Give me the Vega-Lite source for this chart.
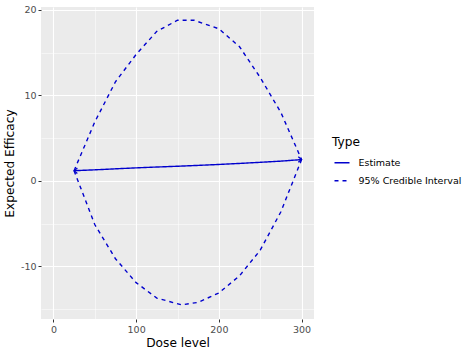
{
  "$schema": "https://vega.github.io/schema/vega-lite/v6.json",
  "width": 273,
  "height": 312,
  "autosize": {"type": "none"},
  "padding": {"left": 41, "top": 7, "right": 160, "bottom": 36},
  "background": "white",
  "config": {
    "view": {"fill": "#EBEBEB", "stroke": null},
    "font": "DejaVu Sans",
    "axis": {
      "domain": false,
      "labelColor": "#4D4D4D",
      "labelFont": "DejaVu Sans",
      "labelFontSize": 9.5,
      "titleFont": "DejaVu Sans",
      "titleFontSize": 12.2,
      "titleFontWeight": "normal",
      "titleColor": "black",
      "tickColor": "#333333",
      "tickSize": 3,
      "tickWidth": 1,
      "gridColor": "white",
      "labelPadding": 2,
      "labelOverlap": false,
      "labelFlush": false
    }
  },
  "data": {
    "values": [
      {"dose": 25, "value": 1.2, "Type": "Estimate", "Line": "Estimate"},
      {"dose": 50, "value": 1.3, "Type": "Estimate", "Line": "Estimate"},
      {"dose": 75, "value": 1.42, "Type": "Estimate", "Line": "Estimate"},
      {"dose": 100, "value": 1.53, "Type": "Estimate", "Line": "Estimate"},
      {"dose": 125, "value": 1.63, "Type": "Estimate", "Line": "Estimate"},
      {"dose": 150, "value": 1.72, "Type": "Estimate", "Line": "Estimate"},
      {"dose": 175, "value": 1.82, "Type": "Estimate", "Line": "Estimate"},
      {"dose": 200, "value": 1.93, "Type": "Estimate", "Line": "Estimate"},
      {"dose": 225, "value": 2.05, "Type": "Estimate", "Line": "Estimate"},
      {"dose": 250, "value": 2.18, "Type": "Estimate", "Line": "Estimate"},
      {"dose": 275, "value": 2.32, "Type": "Estimate", "Line": "Estimate"},
      {"dose": 300, "value": 2.5, "Type": "Estimate", "Line": "Estimate"},

      {"dose": 25, "value": 1.2, "Type": "95% Credible Interval", "Line": "Upper"},
      {"dose": 50, "value": 6.9, "Type": "95% Credible Interval", "Line": "Upper"},
      {"dose": 75, "value": 11.6, "Type": "95% Credible Interval", "Line": "Upper"},
      {"dose": 100, "value": 14.8, "Type": "95% Credible Interval", "Line": "Upper"},
      {"dose": 125, "value": 17.5, "Type": "95% Credible Interval", "Line": "Upper"},
      {"dose": 150, "value": 18.8, "Type": "95% Credible Interval", "Line": "Upper"},
      {"dose": 170, "value": 18.8, "Type": "95% Credible Interval", "Line": "Upper"},
      {"dose": 200, "value": 17.8, "Type": "95% Credible Interval", "Line": "Upper"},
      {"dose": 225, "value": 15.7, "Type": "95% Credible Interval", "Line": "Upper"},
      {"dose": 250, "value": 12.1, "Type": "95% Credible Interval", "Line": "Upper"},
      {"dose": 275, "value": 8.0, "Type": "95% Credible Interval", "Line": "Upper"},
      {"dose": 300, "value": 2.5, "Type": "95% Credible Interval", "Line": "Upper"},

      {"dose": 25, "value": 1.2, "Type": "95% Credible Interval", "Line": "Lower"},
      {"dose": 50, "value": -5.1, "Type": "95% Credible Interval", "Line": "Lower"},
      {"dose": 75, "value": -9.1, "Type": "95% Credible Interval", "Line": "Lower"},
      {"dose": 100, "value": -11.9, "Type": "95% Credible Interval", "Line": "Lower"},
      {"dose": 125, "value": -13.7, "Type": "95% Credible Interval", "Line": "Lower"},
      {"dose": 155, "value": -14.5, "Type": "95% Credible Interval", "Line": "Lower"},
      {"dose": 175, "value": -14.2, "Type": "95% Credible Interval", "Line": "Lower"},
      {"dose": 200, "value": -13.1, "Type": "95% Credible Interval", "Line": "Lower"},
      {"dose": 225, "value": -11.1, "Type": "95% Credible Interval", "Line": "Lower"},
      {"dose": 250, "value": -8.1, "Type": "95% Credible Interval", "Line": "Lower"},
      {"dose": 275, "value": -3.6, "Type": "95% Credible Interval", "Line": "Lower"},
      {"dose": 300, "value": 2.5, "Type": "95% Credible Interval", "Line": "Lower"}
    ]
  },
  "encoding": {
    "x": {
      "field": "dose",
      "type": "quantitative",
      "scale": {"domain": [-15, 315], "nice": false, "zero": false},
      "axis": {
        "title": "Dose level",
        "values": [0, 50, 100, 150, 200, 250, 300],
        "labelExpr": "datum.value % 100 === 0 ? datum.label : ''",
        "gridWidth": {"condition": {"test": "datum.value % 100 === 0", "value": 1.1}, "value": 0.5},
        "tickOpacity": {"condition": {"test": "datum.value % 100 === 0", "value": 1}, "value": 0},
        "titlePadding": 3
      }
    },
    "y": {
      "field": "value",
      "type": "quantitative",
      "scale": {"domain": [-16.15, 20.35], "nice": false, "zero": false},
      "axis": {
        "title": "Expected Efficacy",
        "values": [-15, -10, -5, 0, 5, 10, 15, 20],
        "labelExpr": "datum.value % 10 === 0 ? '' + datum.value : ''",
        "gridWidth": {"condition": {"test": "datum.value % 10 === 0", "value": 1.1}, "value": 0.5},
        "tickOpacity": {"condition": {"test": "datum.value % 10 === 0", "value": 1}, "value": 0},
        "titlePadding": 4
      }
    }
  },
  "layer": [
    {
      "mark": {"type": "line", "strokeWidth": 1.4},
      "encoding": {
        "detail": {"field": "Line"},
        "color": {
          "field": "Type",
          "type": "nominal",
          "scale": {"domain": ["Estimate", "95% Credible Interval"], "range": ["#0000CD", "#0000CD"]},
          "legend": {
            "title": "Type",
            "orient": "none",
            "legendX": 291,
            "legendY": 129,
            "padding": 0,
            "symbolType": "stroke",
            "symbolSize": 225,
            "symbolStrokeWidth": 1.4,
            "symbolOffset": 1.5,
            "labelOffset": 8,
            "labelFontSize": 9.5,
            "labelColor": "black",
            "titleFontSize": 12.2,
            "titleFontWeight": "normal",
            "titleColor": "black",
            "titlePadding": 6,
            "rowPadding": 5
          }
        },
        "strokeDash": {
          "field": "Type",
          "type": "nominal",
          "scale": {"domain": ["Estimate", "95% Credible Interval"], "range": [[1, 0], [4, 4]]},
          "legend": {"title": "Type"}
        }
      }
    },
    {
      "transform": [{"filter": "datum.Line === 'Estimate' && datum.dose === 25"}],
      "mark": {"type": "point", "shape": "M1.2,-1L0,0L1.2,1", "filled": false, "size": 30, "strokeWidth": 1.3, "color": "#0000CD", "opacity": 1}
    },
    {
      "transform": [{"filter": "datum.Line === 'Estimate' && datum.dose === 300"}],
      "mark": {"type": "point", "shape": "M-1.2,-1L0,0L-1.2,1", "filled": false, "size": 30, "strokeWidth": 1.3, "color": "#0000CD", "opacity": 1}
    }
  ]
}
